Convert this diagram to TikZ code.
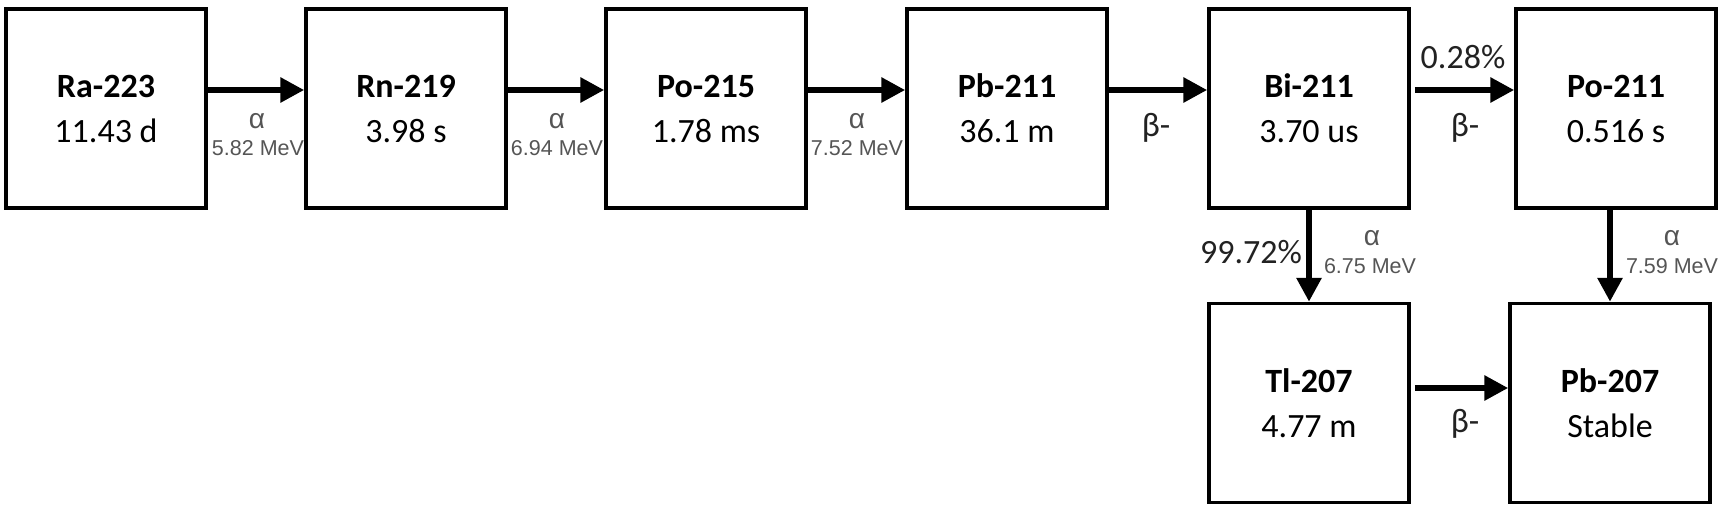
\documentclass[tikz,border=0pt]{standalone}
\usepackage{fontspec}
\setmainfont{Carlito}
\newfontfamily\labfont{Liberation Sans}
\usetikzlibrary{arrows.meta}
\definecolor{labgray}{HTML}{555555}
\definecolor{txtdark}{HTML}{222222}
\begin{document}
\begin{tikzpicture}[x=1pt,y=-1pt]
\tikzset{
 nuc/.style={draw=black, line width=3.5pt, fill=white, minimum width=200pt, minimum height=199pt, inner sep=0pt, align=center, font=\fontsize{34}{45}\selectfont},
 decay/.style={line width=6pt, -{Triangle[length=24pt,width=24pt]}},
 alab/.style={text=labgray, font=\labfont\fontsize{28}{30}\selectfont, inner sep=0pt},
 elab/.style={text=labgray, font=\labfont\fontsize{21.5}{24}\selectfont, inner sep=0pt},
 blab/.style={text=txtdark, font=\fontsize{34}{40}\selectfont, inner sep=0pt},
}
\useasboundingbox[fill=white] (0,0) rectangle (1725,512);
\coordinate (rowA) at (0,90);
\coordinate (rowB) at (0,388);
% nuclide boxes
\node[nuc] (ra)  at (106,108.5)  {\textbf{Ra-223}\\11.43 d};
\node[nuc] (rn)  at (406,108.5)  {\textbf{Rn-219}\\3.98 s};
\node[nuc] (pof) at (706,108.5)  {\textbf{Po-215}\\1.78 ms};
\node[nuc] (pbe) at (1007,108.5) {\textbf{Pb-211}\\36.1 m};
\node[nuc] (bi)  at (1309,108.5) {\textbf{Bi-211}\\3.70 us};
\node[nuc] (poe) at (1616,108.5) {\textbf{Po-211}\\0.516 s};
\node[nuc] (tl)  at (1309,403)   {\textbf{Tl-207}\\4.77 m};
\node[nuc] (pbs) at (1610,403)   {\textbf{Pb-207}\\Stable};
% decays
\draw[decay] (ra.east |- rowA) -- (rn.west |- rowA);
\draw[decay] (rn.east |- rowA) -- (pof.west |- rowA);
\draw[decay] (pof.east |- rowA) -- (pbe.west |- rowA);
\draw[decay] (pbe.east |- rowA) -- (bi.west |- rowA);
\draw[decay] ([xshift=4pt]bi.east |- rowA) -- (poe.west |- rowA);
\draw[decay] (bi.south) -- (tl.north);
\draw[decay] (poe.south -| pbs.north) -- (pbs.north);
\draw[decay] ([xshift=4pt]tl.east |- rowB) -- (pbs.west |- rowB);
% labels
\node[alab] (a1) at (257,121) {α};
\node[elab] (e1) at (258,148) {5.82 MeV};
\node[alab] (a2) at (557,121) {α};
\node[elab] (e2) at (557,148) {6.94 MeV};
\node[alab] (a3) at (857,121) {α};
\node[elab] (e3) at (857,148) {7.52 MeV};
\node[blab] (b1) at (1156,128) {β-};
\node[blab] (p1) at (1463,57) {0.28\%};
\node[blab] (b2) at (1465,128) {β-};
\node[blab] (p2) at (1251,252) {99.72\%};
\node[alab] (a4) at (1372,238) {α};
\node[elab] (e4) at (1370,266) {6.75 MeV};
\node[alab] (a5) at (1672,238) {α};
\node[elab] (e5) at (1672,266) {7.59 MeV};
\node[blab] (b3) at (1465,424) {β-};
\end{tikzpicture}
\end{document}
